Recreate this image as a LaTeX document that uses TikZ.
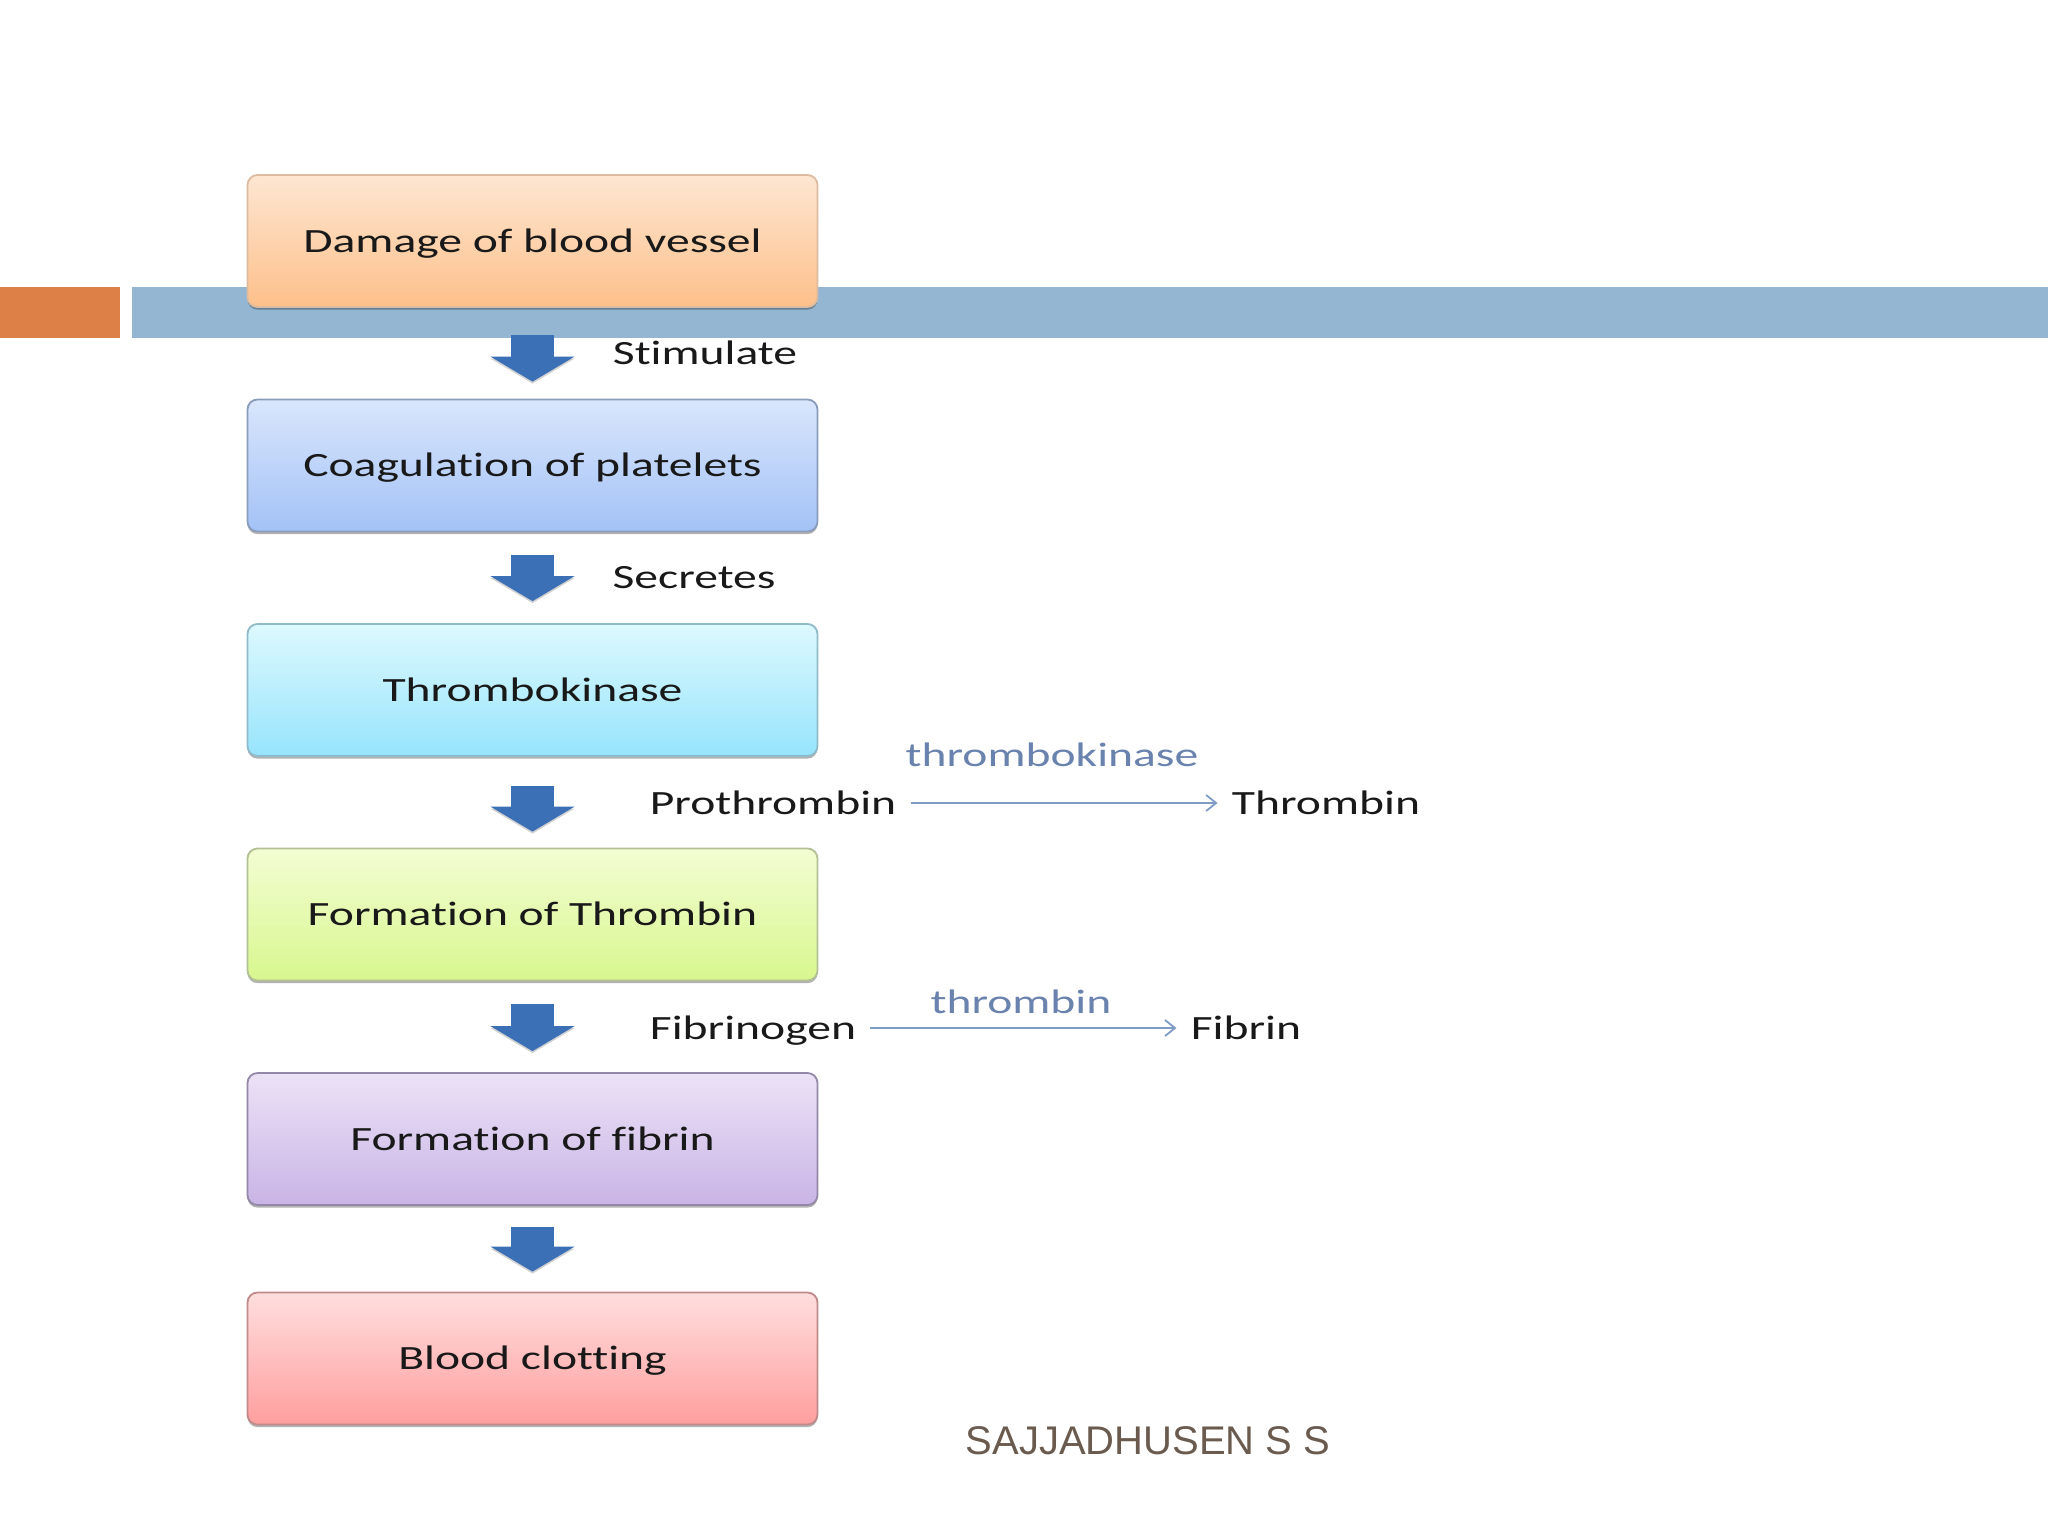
\documentclass[tikz,border=0pt]{standalone}
\usepackage{fontspec}
\setmainfont[FakeStretch=1.4,Ligatures=NoCommon,RawFeature={-liga;-dlig;-clig}]{Carlito}
\newfontfamily\footfont{Liberation Sans}
\usetikzlibrary{arrows.meta,shadows}
\definecolor{barorange}{HTML}{DD8047}
\definecolor{barblue}{HTML}{94B6D2}
\definecolor{downblue}{HTML}{3B6FB6}
\definecolor{thinblue}{HTML}{7F9CC4}
\definecolor{enzyme}{HTML}{6A82AE}
\definecolor{footcol}{HTML}{6B5B4F}
\definecolor{orangetop}{HTML}{FDE6D2}\definecolor{orangebot}{HTML}{FDC08A}\definecolor{orangeedge}{HTML}{DDBBA0}
\definecolor{bluetop}{HTML}{D9E6FC}\definecolor{bluebot}{HTML}{A3C2F6}\definecolor{blueedge}{HTML}{8A9CBC}
\definecolor{cyantop}{HTML}{DDF9FE}\definecolor{cyanbot}{HTML}{97E4FC}\definecolor{cyanedge}{HTML}{8FBAC8}
\definecolor{greentop}{HTML}{F3FDD2}\definecolor{greenbot}{HTML}{D8F78F}\definecolor{greenedge}{HTML}{B3C095}
\definecolor{purpletop}{HTML}{ECE2F6}\definecolor{purplebot}{HTML}{C9B4E6}\definecolor{purpleedge}{HTML}{9488A8}
\definecolor{redtop}{HTML}{FFDEDE}\definecolor{redbot}{HTML}{FF9E9E}\definecolor{rededge}{HTML}{C08A8A}
\begin{document}
\begin{tikzpicture}[
    x=0.5pt, y=-0.5pt,
    stage/.style={
      draw=#1edge, line width=0.9pt, rounded corners=5pt, top color=#1top, bottom color=#1bot,
      minimum width=285pt, minimum height=66pt, inner sep=0,
      font=\fontsize{17}{20}\selectfont, text=black!90, text height=11pt, text depth=0pt,
      drop shadow={shadow xshift=0pt, shadow yshift=-1.3pt, fill=black, opacity=0.3}
    },
    word/.style={font=\fontsize{17}{20}\selectfont, text=black!90, text height=13.6pt, text depth=2.4pt, inner xsep=7pt, inner ysep=0},
    enzymeword/.style={word, text=enzyme},
    down/.style 2 args={line width=21.5pt, draw=downblue, shorten <=#1, shorten >=#2,
      -{Triangle[length=12.5pt,width=41.5pt]},
      preaction={draw=black!18, transform canvas={yshift=-1pt}}},
    thin/.style={draw=thinblue, line width=0.9pt, -{Straight Barb[length=5pt,width=8pt]}}
  ]
  \useasboundingbox (0,0) rectangle (2048,1536);

  % Title bar
  \fill[barorange] (0,287) rectangle (120,338);
  \fill[barblue] (132,287) rectangle (2048,338);

  % Stages
  \foreach \name/\ypos/\hue/\txt in {
      damage/241/orange/Damage of blood vessel,
      platelets/465.5/blue/Coagulation of platelets,
      kinase/690/cyan/Thrombokinase,
      formthr/914.5/green/Formation of Thrombin,
      formfib/1139/purple/Formation of fibrin,
      clot/1358.5/red/Blood clotting}
    \node[stage=\hue] (\name) at (532.5,\ypos) {\txt};

  % Block arrows between the stages
  \foreach \source/\dest/\gapa/\gapb in {
      damage/platelets/13.5pt/8.5pt,
      platelets/kinase/11.5pt/11pt,
      kinase/formthr/14.5pt/8pt,
      formthr/formfib/11.5pt/10.5pt,
      formfib/clot/10.5pt/10pt}
    \draw[down={\gapa}{\gapb}] (\source) -- (\dest);

  % Side labels
  \node[word] (stim) at (705,353) {Stimulate};
  \node[word] (secr) at (694,577) {Secretes};

  % First reaction
  \node[word] (pro) at (773,803) {Prothrombin};
  \node[word] (thr) at (1326,803) {Thrombin};
  \node[enzymeword] (kin) at (1052,755) {thrombokinase};
  \draw[thin] (pro) -- (thr);

  % Second reaction
  \node[word] (fbg) at (753,1028) {Fibrinogen};
  \node[word] (fbn) at (1246,1028) {Fibrin};
  \node[enzymeword] (enz) at (1021,1002) {thrombin};
  \draw[thin] (fbg) -- (fbn);

  \node[text=footcol, inner sep=0, font=\footfont\fontsize{20}{24}\selectfont] (foot) at (1148,1441) {SAJJADHUSEN S S};
\end{tikzpicture}
\end{document}
